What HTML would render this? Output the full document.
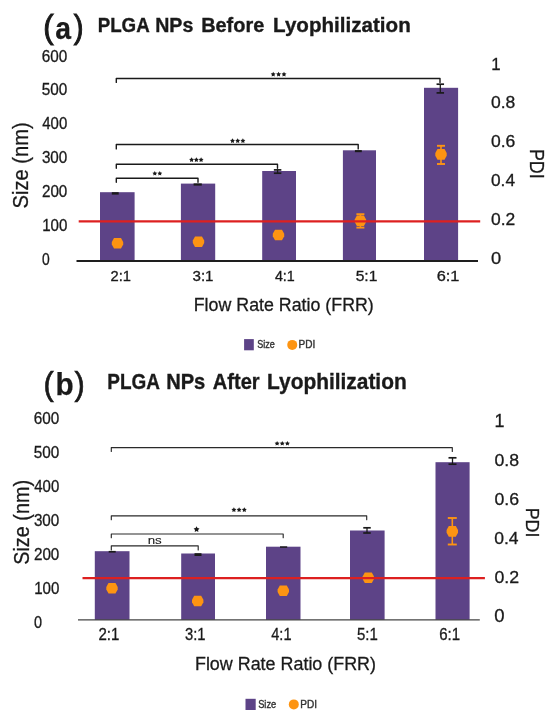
<!DOCTYPE html>
<html><head><meta charset="utf-8"><style>
html,body{margin:0;padding:0;background:#fff;}
svg{display:block;will-change:transform;}
</style></head><body>
<svg width="550" height="719" viewBox="0 0 550 719" font-family="'Liberation Sans', sans-serif">
<rect width="550" height="719" fill="#fff"/>
<text x="43.17" y="38.38" font-size="32.46" stroke="#1a1a1a" stroke-width="1.0" textLength="10.41" lengthAdjust="spacingAndGlyphs" fill="#1a1a1a">(</text>
<text x="55.19" y="38.53" font-size="30.9" font-weight="bold" stroke="#1a1a1a" stroke-width="0.25" textLength="15.77" lengthAdjust="spacingAndGlyphs" fill="#1a1a1a">a</text>
<text x="73.67" y="38.38" font-size="32.46" stroke="#1a1a1a" stroke-width="1.0" textLength="9.79" lengthAdjust="spacingAndGlyphs" fill="#1a1a1a">)</text>
<text x="97.63" y="31.81" font-size="20.46" font-weight="bold" stroke="#1a1a1a" stroke-width="0.35" textLength="52.09" lengthAdjust="spacingAndGlyphs" fill="#1a1a1a">PLGA</text>
<text x="155.21" y="31.81" font-size="20.46" font-weight="bold" stroke="#1a1a1a" stroke-width="0.35" textLength="38.13" lengthAdjust="spacingAndGlyphs" fill="#1a1a1a">NPs</text>
<text x="201.16" y="31.81" font-size="20.46" font-weight="bold" stroke="#1a1a1a" stroke-width="0.35" textLength="63.08" lengthAdjust="spacingAndGlyphs" fill="#1a1a1a">Before</text>
<text x="273.1" y="31.81" font-size="20.46" font-weight="bold" stroke="#1a1a1a" stroke-width="0.35" textLength="137.62" lengthAdjust="spacingAndGlyphs" fill="#1a1a1a">Lyophilization</text>
<text x="41.82" y="61.57" font-size="15.77" stroke="#1a1a1a" stroke-width="0.3" textLength="25.51" lengthAdjust="spacingAndGlyphs" fill="#1a1a1a">600</text>
<text x="41.8" y="95.46" font-size="15.73" stroke="#1a1a1a" stroke-width="0.3" textLength="25.53" lengthAdjust="spacingAndGlyphs" fill="#1a1a1a">500</text>
<text x="42.26" y="129.36" font-size="15.73" stroke="#1a1a1a" stroke-width="0.3" textLength="25.0" lengthAdjust="spacingAndGlyphs" fill="#1a1a1a">400</text>
<text x="41.9" y="163.27" font-size="15.77" stroke="#1a1a1a" stroke-width="0.3" textLength="25.44" lengthAdjust="spacingAndGlyphs" fill="#1a1a1a">300</text>
<text x="41.95" y="197.16" font-size="15.75" stroke="#1a1a1a" stroke-width="0.3" textLength="25.39" lengthAdjust="spacingAndGlyphs" fill="#1a1a1a">200</text>
<text x="42.21" y="231.16" font-size="15.73" stroke="#1a1a1a" stroke-width="0.3" textLength="25.22" lengthAdjust="spacingAndGlyphs" fill="#1a1a1a">100</text>
<text x="42.1" y="264.98" font-size="15.79" stroke="#1a1a1a" stroke-width="0.3" textLength="7.72" lengthAdjust="spacingAndGlyphs" fill="#1a1a1a">0</text>
<text transform="translate(28.09,330.90) rotate(-90)" x="122.43" y="0" font-size="22.44" stroke="#1a1a1a" stroke-width="0.3" textLength="86.22" lengthAdjust="spacingAndGlyphs" fill="#1a1a1a">Size (nm)</text>
<text transform="translate(530.18,0) rotate(90)" x="148.95" y="0" font-size="19.49" stroke="#1a1a1a" stroke-width="0.3" textLength="29.82" lengthAdjust="spacingAndGlyphs" fill="#1a1a1a">PDI</text>
<text x="491.37" y="69.85" font-size="16.84" stroke="#1a1a1a" stroke-width="0.3" fill="#1a1a1a">1</text>
<text x="491.01" y="108.24" font-size="16.87" stroke="#1a1a1a" stroke-width="0.3" textLength="24.35" lengthAdjust="spacingAndGlyphs" fill="#1a1a1a">0.8</text>
<text x="491.01" y="147.14" font-size="16.87" stroke="#1a1a1a" stroke-width="0.3" textLength="24.35" lengthAdjust="spacingAndGlyphs" fill="#1a1a1a">0.6</text>
<text x="491.03" y="186.05" font-size="16.84" stroke="#1a1a1a" stroke-width="0.3" textLength="23.99" lengthAdjust="spacingAndGlyphs" fill="#1a1a1a">0.4</text>
<text x="491.01" y="224.94" font-size="16.87" stroke="#1a1a1a" stroke-width="0.3" textLength="24.26" lengthAdjust="spacingAndGlyphs" fill="#1a1a1a">0.2</text>
<text x="490.92" y="264.37" font-size="17.18" stroke="#1a1a1a" stroke-width="0.3" textLength="10.19" lengthAdjust="spacingAndGlyphs" fill="#1a1a1a">0</text>
<text x="110.47" y="280.67" font-size="14.34" stroke="#1a1a1a" stroke-width="0.3" textLength="20.47" lengthAdjust="spacingAndGlyphs" fill="#1a1a1a">2:1</text>
<text x="192.5" y="280.67" font-size="14.34" stroke="#1a1a1a" stroke-width="0.3" textLength="21.0" lengthAdjust="spacingAndGlyphs" fill="#1a1a1a">3:1</text>
<text x="274.9" y="280.67" font-size="14.34" stroke="#1a1a1a" stroke-width="0.3" textLength="19.9" lengthAdjust="spacingAndGlyphs" fill="#1a1a1a">4:1</text>
<text x="355.65" y="280.67" font-size="14.34" stroke="#1a1a1a" stroke-width="0.3" textLength="21.72" lengthAdjust="spacingAndGlyphs" fill="#1a1a1a">5:1</text>
<text x="436.73" y="280.67" font-size="14.34" stroke="#1a1a1a" stroke-width="0.3" textLength="22.74" lengthAdjust="spacingAndGlyphs" fill="#1a1a1a">6:1</text>
<text x="193.75" y="311.12" font-size="19.07" stroke="#1a1a1a" stroke-width="0.3" textLength="180.02" lengthAdjust="spacingAndGlyphs" fill="#1a1a1a">Flow Rate Ratio (FRR)</text>
<text x="257.2" y="348.27" font-size="10.78" stroke="#333" stroke-width="0.4" textLength="17.56" lengthAdjust="spacingAndGlyphs" fill="#333">Size</text>
<text x="298.57" y="348.27" font-size="10.78" stroke="#333" stroke-width="0.4" textLength="16.72" lengthAdjust="spacingAndGlyphs" fill="#333">PDI</text>
<rect x="100.00" y="192.20" width="34.60" height="68.80" fill="#5d4387"/>
<rect x="180.90" y="183.60" width="34.30" height="77.40" fill="#5d4387"/>
<rect x="262.20" y="171.00" width="33.80" height="90.00" fill="#5d4387"/>
<rect x="342.90" y="150.30" width="33.10" height="110.70" fill="#5d4387"/>
<rect x="424.00" y="87.80" width="34.10" height="173.20" fill="#5d4387"/>
<line x1="76.50" y1="261.00" x2="478.00" y2="261.00" stroke="#1e1e1e" stroke-width="1.9"/>
<rect x="111.80" y="192.20" width="6.90" height="2.40" fill="#1a1a1a"/>
<rect x="193.60" y="183.40" width="8.20" height="2.20" fill="#1a1a1a"/>
<line x1="277.60" y1="169.90" x2="277.60" y2="173.20" stroke="#1a1a1a" stroke-width="1.3"/>
<line x1="273.85" y1="169.90" x2="281.35" y2="169.90" stroke="#1a1a1a" stroke-width="1.7"/>
<line x1="273.85" y1="173.20" x2="281.35" y2="173.20" stroke="#1a1a1a" stroke-width="1.7"/>
<rect x="354.90" y="150.10" width="6.90" height="2.10" fill="#1a1a1a"/>
<line x1="440.30" y1="84.20" x2="440.30" y2="92.90" stroke="#1a1a1a" stroke-width="1.3"/>
<line x1="436.55" y1="84.20" x2="444.05" y2="84.20" stroke="#1a1a1a" stroke-width="1.7"/>
<line x1="436.55" y1="92.90" x2="444.05" y2="92.90" stroke="#1a1a1a" stroke-width="1.7"/>
<polygon points="114.00,238.00 121.00,238.00 123.20,242.00 123.20,244.60 121.00,248.60 114.00,248.60 111.80,244.60 111.80,242.00" fill="#fd9412"/>
<polygon points="195.00,236.50 202.00,236.50 204.20,240.50 204.20,243.10 202.00,247.10 195.00,247.10 192.80,243.10 192.80,240.50" fill="#fd9412"/>
<polygon points="275.00,229.70 282.00,229.70 284.20,233.70 284.20,236.30 282.00,240.30 275.00,240.30 272.80,236.30 272.80,233.70" fill="#fd9412"/>
<line x1="360.40" y1="214.20" x2="360.40" y2="227.60" stroke="#fd9412" stroke-width="1.6"/>
<line x1="356.40" y1="214.20" x2="364.40" y2="214.20" stroke="#fd9412" stroke-width="1.9"/>
<line x1="356.40" y1="227.60" x2="364.40" y2="227.60" stroke="#fd9412" stroke-width="1.9"/>
<polygon points="356.90,215.50 363.90,215.50 366.10,219.50 366.10,222.10 363.90,226.10 356.90,226.10 354.70,222.10 354.70,219.50" fill="#fd9412"/>
<line x1="441.00" y1="145.80" x2="441.00" y2="164.00" stroke="#fd9412" stroke-width="1.6"/>
<line x1="437.00" y1="145.80" x2="445.00" y2="145.80" stroke="#fd9412" stroke-width="1.9"/>
<line x1="437.00" y1="164.00" x2="445.00" y2="164.00" stroke="#fd9412" stroke-width="1.9"/>
<polygon points="437.50,149.10 444.50,149.10 446.70,153.10 446.70,155.70 444.50,159.70 437.50,159.70 435.30,155.70 435.30,153.10" fill="#fd9412"/>
<line x1="78.70" y1="221.40" x2="480.20" y2="221.40" stroke="#dd2020" stroke-width="2.3"/>
<path d="M116.30 82.40 V78.50 H440.00 V82.40" fill="none" stroke="#1a1a1a" stroke-width="1.4" stroke-linejoin="round" stroke-linecap="round"/>
<path d="M116.30 148.90 V144.50 H358.20 V148.90" fill="none" stroke="#1a1a1a" stroke-width="1.4" stroke-linejoin="round" stroke-linecap="round"/>
<path d="M116.30 168.20 V164.30 H277.50 V168.20" fill="none" stroke="#1a1a1a" stroke-width="1.4" stroke-linejoin="round" stroke-linecap="round"/>
<path d="M116.30 182.20 V178.20 H198.00 V182.20" fill="none" stroke="#1a1a1a" stroke-width="1.4" stroke-linejoin="round" stroke-linecap="round"/>
<polygon points="273.20,71.80 273.99,73.31 275.67,73.60 274.49,74.82 274.73,76.50 273.20,75.75 271.67,76.50 271.91,74.82 270.73,73.60 272.41,73.31" fill="#1a1a1a"/>
<polygon points="278.60,71.80 279.39,73.31 281.07,73.60 279.89,74.82 280.13,76.50 278.60,75.75 277.07,76.50 277.31,74.82 276.13,73.60 277.81,73.31" fill="#1a1a1a"/>
<polygon points="284.00,71.80 284.79,73.31 286.47,73.60 285.29,74.82 285.53,76.50 284.00,75.75 282.47,76.50 282.71,74.82 281.53,73.60 283.21,73.31" fill="#1a1a1a"/>
<polygon points="232.50,138.20 233.29,139.71 234.97,140.00 233.79,141.22 234.03,142.90 232.50,142.15 230.97,142.90 231.21,141.22 230.03,140.00 231.71,139.71" fill="#1a1a1a"/>
<polygon points="237.70,138.20 238.49,139.71 240.17,140.00 238.99,141.22 239.23,142.90 237.70,142.15 236.17,142.90 236.41,141.22 235.23,140.00 236.91,139.71" fill="#1a1a1a"/>
<polygon points="242.90,138.20 243.69,139.71 245.37,140.00 244.19,141.22 244.43,142.90 242.90,142.15 241.37,142.90 241.61,141.22 240.43,140.00 242.11,139.71" fill="#1a1a1a"/>
<polygon points="191.60,157.20 192.39,158.71 194.07,159.00 192.89,160.22 193.13,161.90 191.60,161.15 190.07,161.90 190.31,160.22 189.13,159.00 190.81,158.71" fill="#1a1a1a"/>
<polygon points="196.35,157.20 197.14,158.71 198.82,159.00 197.64,160.22 197.88,161.90 196.35,161.15 194.82,161.90 195.06,160.22 193.88,159.00 195.56,158.71" fill="#1a1a1a"/>
<polygon points="201.10,157.20 201.89,158.71 203.57,159.00 202.39,160.22 202.63,161.90 201.10,161.15 199.57,161.90 199.81,160.22 198.63,159.00 200.31,158.71" fill="#1a1a1a"/>
<polygon points="154.80,171.00 155.56,172.45 157.18,172.73 156.04,173.90 156.27,175.52 154.80,174.80 153.33,175.52 153.56,173.90 152.42,172.73 154.04,172.45" fill="#1a1a1a"/>
<polygon points="159.80,171.00 160.56,172.45 162.18,172.73 161.04,173.90 161.27,175.52 159.80,174.80 158.33,175.52 158.56,173.90 157.42,172.73 159.04,172.45" fill="#1a1a1a"/>
<rect x="244.10" y="339.10" width="9.70" height="11.20" fill="#5d4387"/>
<circle cx="292.25" cy="344.90" r="5" fill="#fd9412"/>
<text x="43.45" y="395.02" font-size="33.51" stroke="#1a1a1a" stroke-width="0.7" textLength="10.27" lengthAdjust="spacingAndGlyphs" fill="#1a1a1a">(</text>
<text x="55.44" y="394.91" font-size="31.75" font-weight="bold" stroke="#1a1a1a" stroke-width="0.25" textLength="18.2" lengthAdjust="spacingAndGlyphs" fill="#1a1a1a">b</text>
<text x="74.48" y="395.02" font-size="33.51" stroke="#1a1a1a" stroke-width="0.7" textLength="10.24" lengthAdjust="spacingAndGlyphs" fill="#1a1a1a">)</text>
<text x="107.25" y="388.51" font-size="21.16" font-weight="bold" stroke="#1a1a1a" stroke-width="0.35" textLength="52.63" lengthAdjust="spacingAndGlyphs" fill="#1a1a1a">PLGA</text>
<text x="166.14" y="388.51" font-size="21.16" font-weight="bold" stroke="#1a1a1a" stroke-width="0.35" textLength="39.13" lengthAdjust="spacingAndGlyphs" fill="#1a1a1a">NPs</text>
<text x="212.84" y="388.51" font-size="21.16" font-weight="bold" stroke="#1a1a1a" stroke-width="0.35" textLength="46.86" lengthAdjust="spacingAndGlyphs" fill="#1a1a1a">After</text>
<text x="267.08" y="388.51" font-size="21.16" font-weight="bold" stroke="#1a1a1a" stroke-width="0.35" textLength="139.59" lengthAdjust="spacingAndGlyphs" fill="#1a1a1a">Lyophilization</text>
<text x="33.82" y="423.67" font-size="15.77" stroke="#1a1a1a" stroke-width="0.3" textLength="25.51" lengthAdjust="spacingAndGlyphs" fill="#1a1a1a">600</text>
<text x="33.8" y="457.76" font-size="15.73" stroke="#1a1a1a" stroke-width="0.3" textLength="25.53" lengthAdjust="spacingAndGlyphs" fill="#1a1a1a">500</text>
<text x="34.26" y="491.86" font-size="15.73" stroke="#1a1a1a" stroke-width="0.3" textLength="25.0" lengthAdjust="spacingAndGlyphs" fill="#1a1a1a">400</text>
<text x="33.9" y="525.97" font-size="15.77" stroke="#1a1a1a" stroke-width="0.3" textLength="25.44" lengthAdjust="spacingAndGlyphs" fill="#1a1a1a">300</text>
<text x="33.95" y="560.06" font-size="15.75" stroke="#1a1a1a" stroke-width="0.3" textLength="25.39" lengthAdjust="spacingAndGlyphs" fill="#1a1a1a">200</text>
<text x="34.22" y="594.25" font-size="16.01" stroke="#1a1a1a" stroke-width="0.3" textLength="25.2" lengthAdjust="spacingAndGlyphs" fill="#1a1a1a">100</text>
<text x="33.9" y="628.28" font-size="15.65" stroke="#1a1a1a" stroke-width="0.3" textLength="8.03" lengthAdjust="spacingAndGlyphs" fill="#1a1a1a">0</text>
<text transform="translate(28.79,1044.80) rotate(-90)" x="480.02" y="0" font-size="22.31" stroke="#1a1a1a" stroke-width="0.3" textLength="84.91" lengthAdjust="spacingAndGlyphs" fill="#1a1a1a">Size (nm)</text>
<text transform="translate(526.47,0) rotate(90)" x="507.73" y="0" font-size="18.51" stroke="#1a1a1a" stroke-width="0.3" textLength="29.69" lengthAdjust="spacingAndGlyphs" fill="#1a1a1a">PDI</text>
<text x="494.48" y="427.33" font-size="17.96" stroke="#1a1a1a" stroke-width="0.3" fill="#1a1a1a">1</text>
<text x="494.41" y="465.74" font-size="17.42" stroke="#1a1a1a" stroke-width="0.3" textLength="24.6" lengthAdjust="spacingAndGlyphs" fill="#1a1a1a">0.8</text>
<text x="494.41" y="504.87" font-size="17.42" stroke="#1a1a1a" stroke-width="0.3" textLength="24.58" lengthAdjust="spacingAndGlyphs" fill="#1a1a1a">0.6</text>
<text x="494.25" y="544.0" font-size="17.4" stroke="#1a1a1a" stroke-width="0.3" textLength="24.39" lengthAdjust="spacingAndGlyphs" fill="#1a1a1a">0.4</text>
<text x="494.41" y="583.13" font-size="17.42" stroke="#1a1a1a" stroke-width="0.3" textLength="24.65" lengthAdjust="spacingAndGlyphs" fill="#1a1a1a">0.2</text>
<text x="494.22" y="622.47" font-size="17.46" stroke="#1a1a1a" stroke-width="0.3" textLength="10.3" lengthAdjust="spacingAndGlyphs" fill="#1a1a1a">0</text>
<text x="98.38" y="640.46" font-size="15.59" stroke="#1a1a1a" stroke-width="0.3" textLength="20.86" lengthAdjust="spacingAndGlyphs" fill="#1a1a1a">2:1</text>
<text x="184.97" y="640.46" font-size="15.59" stroke="#1a1a1a" stroke-width="0.3" textLength="20.53" lengthAdjust="spacingAndGlyphs" fill="#1a1a1a">3:1</text>
<text x="271.27" y="640.46" font-size="15.59" stroke="#1a1a1a" stroke-width="0.3" textLength="20.21" lengthAdjust="spacingAndGlyphs" fill="#1a1a1a">4:1</text>
<text x="357.04" y="640.46" font-size="15.59" stroke="#1a1a1a" stroke-width="0.3" textLength="20.83" lengthAdjust="spacingAndGlyphs" fill="#1a1a1a">5:1</text>
<text x="439.24" y="640.46" font-size="15.59" stroke="#1a1a1a" stroke-width="0.3" textLength="20.86" lengthAdjust="spacingAndGlyphs" fill="#1a1a1a">6:1</text>
<text x="194.94" y="670.02" font-size="19.07" stroke="#1a1a1a" stroke-width="0.3" textLength="181.08" lengthAdjust="spacingAndGlyphs" fill="#1a1a1a">Flow Rate Ratio (FRR)</text>
<text x="258.18" y="708.07" font-size="11.05" stroke="#333" stroke-width="0.4" textLength="18.08" lengthAdjust="spacingAndGlyphs" fill="#333">Size</text>
<text x="300.33" y="708.07" font-size="11.05" stroke="#333" stroke-width="0.4" textLength="16.77" lengthAdjust="spacingAndGlyphs" fill="#333">PDI</text>
<text x="147.67" y="543.56" font-size="11.66" stroke="#1a1a1a" stroke-width="0.1" textLength="14.09" lengthAdjust="spacingAndGlyphs" fill="#1a1a1a">ns</text>
<rect x="94.80" y="551.20" width="34.70" height="68.70" fill="#5d4387"/>
<rect x="181.20" y="553.50" width="33.80" height="66.40" fill="#5d4387"/>
<rect x="266.00" y="546.70" width="34.50" height="73.20" fill="#5d4387"/>
<rect x="350.00" y="530.50" width="34.60" height="89.40" fill="#5d4387"/>
<rect x="435.50" y="462.20" width="34.10" height="157.70" fill="#5d4387"/>
<line x1="78.00" y1="619.90" x2="479.80" y2="619.90" stroke="#444" stroke-width="1.4"/>
<rect x="108.70" y="550.90" width="7.00" height="1.70" fill="#1a1a1a"/>
<rect x="194.50" y="553.20" width="7.00" height="2.80" fill="#1a1a1a"/>
<rect x="280.00" y="546.30" width="7.20" height="1.50" fill="#1a1a1a"/>
<line x1="367.00" y1="527.80" x2="367.00" y2="533.00" stroke="#1a1a1a" stroke-width="1.3"/>
<line x1="363.25" y1="527.80" x2="370.75" y2="527.80" stroke="#1a1a1a" stroke-width="1.7"/>
<line x1="363.25" y1="533.00" x2="370.75" y2="533.00" stroke="#1a1a1a" stroke-width="1.7"/>
<line x1="452.50" y1="457.80" x2="452.50" y2="464.20" stroke="#1a1a1a" stroke-width="1.3"/>
<line x1="448.50" y1="457.80" x2="456.50" y2="457.80" stroke="#1a1a1a" stroke-width="1.7"/>
<line x1="448.50" y1="464.20" x2="456.50" y2="464.20" stroke="#1a1a1a" stroke-width="1.7"/>
<polygon points="108.50,582.90 115.50,582.90 117.70,586.90 117.70,589.50 115.50,593.50 108.50,593.50 106.30,589.50 106.30,586.90" fill="#fd9412"/>
<polygon points="194.20,595.70 201.20,595.70 203.40,599.70 203.40,602.30 201.20,606.30 194.20,606.30 192.00,602.30 192.00,599.70" fill="#fd9412"/>
<polygon points="279.80,585.50 286.80,585.50 289.00,589.50 289.00,592.10 286.80,596.10 279.80,596.10 277.60,592.10 277.60,589.50" fill="#fd9412"/>
<polygon points="364.80,572.40 371.80,572.40 374.00,576.40 374.00,579.00 371.80,583.00 364.80,583.00 362.60,579.00 362.60,576.40" fill="#fd9412"/>
<line x1="452.30" y1="518.00" x2="452.30" y2="544.50" stroke="#fd9412" stroke-width="1.6"/>
<line x1="447.80" y1="518.00" x2="456.80" y2="518.00" stroke="#fd9412" stroke-width="1.9"/>
<line x1="447.80" y1="544.50" x2="456.80" y2="544.50" stroke="#fd9412" stroke-width="1.9"/>
<polygon points="448.80,526.10 455.80,526.10 458.00,530.10 458.00,532.70 455.80,536.70 448.80,536.70 446.60,532.70 446.60,530.10" fill="#fd9412"/>
<line x1="82.50" y1="578.20" x2="484.90" y2="578.20" stroke="#dd2020" stroke-width="2.3"/>
<path d="M111.30 451.50 V447.60 H452.30 V451.50" fill="none" stroke="#2a2a2a" stroke-width="1.15" stroke-linejoin="round" stroke-linecap="round"/>
<path d="M111.30 519.70 V515.80 H366.70 V519.70" fill="none" stroke="#2a2a2a" stroke-width="1.15" stroke-linejoin="round" stroke-linecap="round"/>
<path d="M111.30 537.70 V534.00 H283.20 V537.70" fill="none" stroke="#2a2a2a" stroke-width="1.15" stroke-linejoin="round" stroke-linecap="round"/>
<path d="M111.30 550.00 V545.80 H198.20 V550.00" fill="none" stroke="#2a2a2a" stroke-width="1.15" stroke-linejoin="round" stroke-linecap="round"/>
<polygon points="277.10,440.90 277.89,442.41 279.57,442.70 278.39,443.92 278.63,445.60 277.10,444.85 275.57,445.60 275.81,443.92 274.63,442.70 276.31,442.41" fill="#1a1a1a"/>
<polygon points="282.25,440.90 283.04,442.41 284.72,442.70 283.54,443.92 283.78,445.60 282.25,444.85 280.72,445.60 280.96,443.92 279.78,442.70 281.46,442.41" fill="#1a1a1a"/>
<polygon points="287.40,440.90 288.19,442.41 289.87,442.70 288.69,443.92 288.93,445.60 287.40,444.85 285.87,445.60 286.11,443.92 284.93,442.70 286.61,442.41" fill="#1a1a1a"/>
<polygon points="233.90,507.20 234.69,508.71 236.37,509.00 235.19,510.22 235.43,511.90 233.90,511.15 232.37,511.90 232.61,510.22 231.43,509.00 233.11,508.71" fill="#1a1a1a"/>
<polygon points="239.10,507.20 239.89,508.71 241.57,509.00 240.39,510.22 240.63,511.90 239.10,511.15 237.57,511.90 237.81,510.22 236.63,509.00 238.31,508.71" fill="#1a1a1a"/>
<polygon points="244.30,507.20 245.09,508.71 246.77,509.00 245.59,510.22 245.83,511.90 244.30,511.15 242.77,511.90 243.01,510.22 241.83,509.00 243.51,508.71" fill="#1a1a1a"/>
<polygon points="196.55,526.30 197.50,528.10 199.50,528.44 198.08,529.90 198.37,531.91 196.55,531.01 194.73,531.91 195.02,529.90 193.60,528.44 195.60,528.10" fill="#1a1a1a"/>
<rect x="245.50" y="698.80" width="10.20" height="11.20" fill="#5d4387"/>
<circle cx="293.80" cy="704.40" r="5" fill="#fd9412"/>
</svg>
</body></html>
